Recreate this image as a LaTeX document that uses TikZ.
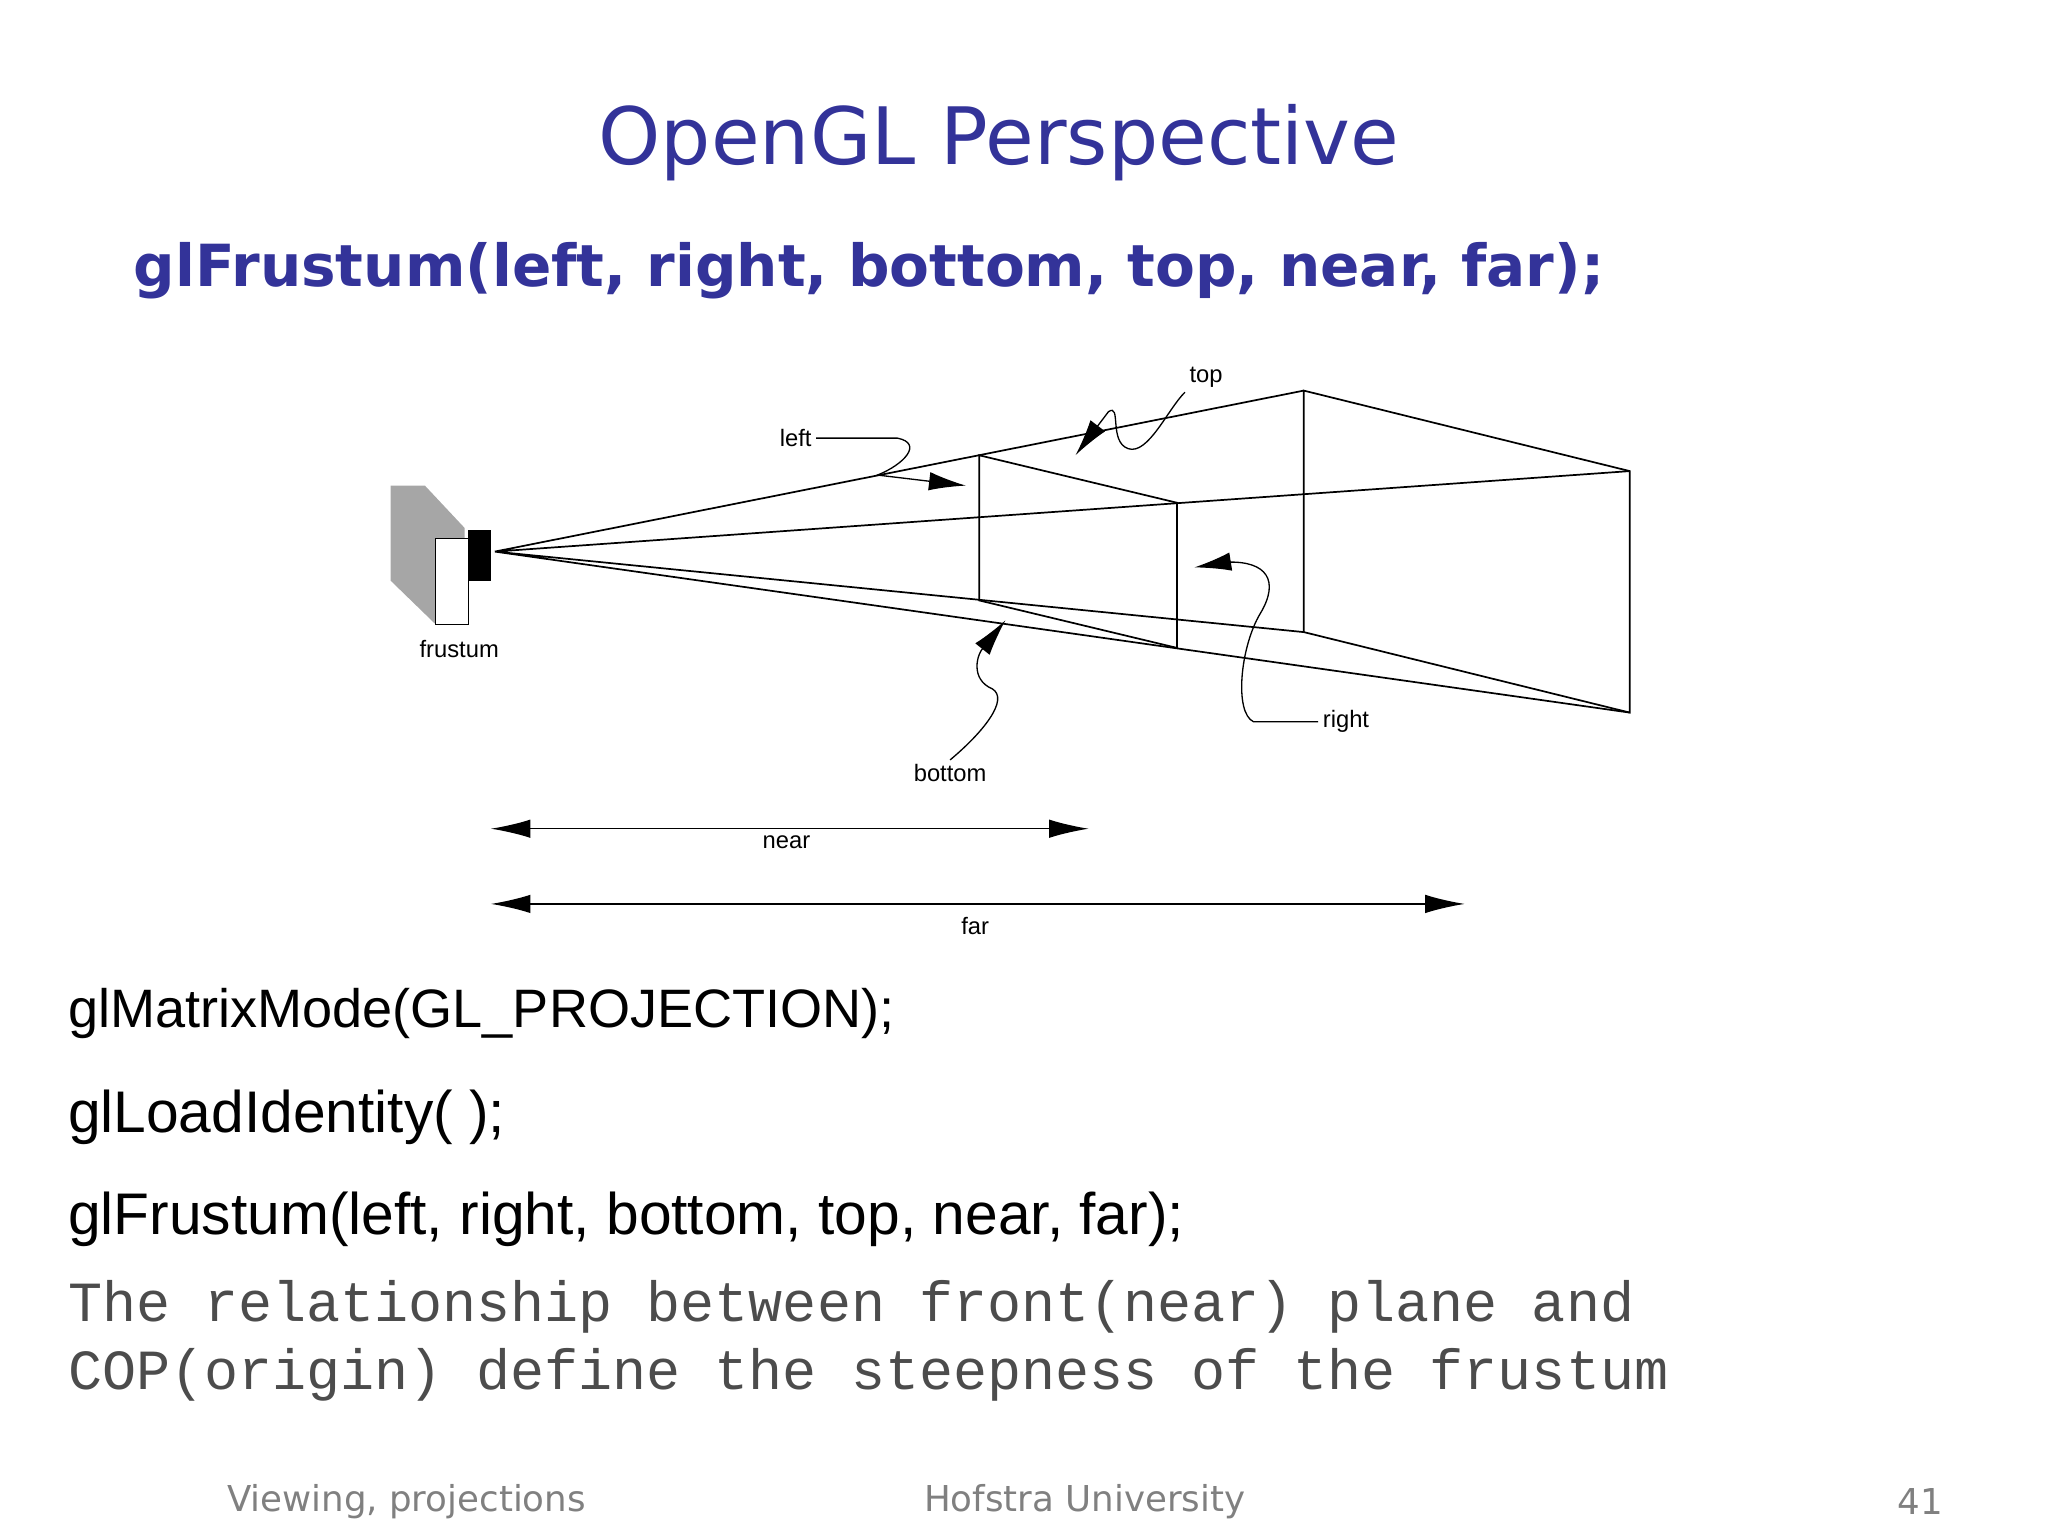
\documentclass[tikz,border=0pt]{standalone}
\usepackage{fontspec}
\setmainfont{DejaVu Sans}
\newfontfamily\lib{Liberation Sans}
\newfontfamily\cour{Liberation Mono}
\usetikzlibrary{arrows.meta}
\definecolor{titleblue}{HTML}{333399}
\begin{document}
\begin{tikzpicture}[x=1pt,y=-1pt,
  edge/.style={line width=1.3pt},
  lbl/.style={font=\lib\fontsize{18}{20}\selectfont},
  bigtip/.style={-{Latex[length=28pt,width=14pt]}},
  wig/.style={line width=1pt}]
\useasboundingbox (0,0) rectangle (1552,1164);
\node[text=titleblue,font=\fontsize{60}{64}\selectfont] (title) at (757,108) {OpenGL Perspective};
\node[text=titleblue,font=\bfseries\fontsize{44}{48}\selectfont,anchor=west] (sub) at (98,205) {glFrustum(left, right, bottom, top, near, far);};
% camera
\fill[gray!70] (296,368) -- (322,368) -- (352,400) -- (352,473) -- (330,473) -- (296,440) -- cycle;
\draw[line width=1pt,fill=white] (330,408) rectangle (355,473);
\fill[black] (355,402) rectangle (372,440);
\node[lbl] (fr) at (348,492) {frustum};
% frustum geometry
\coordinate (A) at (375,418);
\coordinate (n1) at (742,345); \coordinate (n2) at (742,455);
\coordinate (n3) at (892,381); \coordinate (n4) at (892,491);
\coordinate (f1) at (988,296); \coordinate (f2) at (988,479);
\coordinate (f3) at (1235,357); \coordinate (f4) at (1235,540);
\draw[edge] (A) -- (f1) (A) -- (f2) (A) -- (f3) (A) -- (f4);
\draw[edge] (n1) -- (n3) -- (n4) -- (n2) -- cycle;
\draw[edge] (f1) -- (f3) -- (f4) -- (f2) -- cycle;
% labels with arrows
\node[lbl] (lleft) at (603,332) {left};
\draw[wig,bigtip] (lleft.east) -- (680,332) .. controls (700,336) and (685,352) .. (665,360) -- (732,368);
\node[lbl] (ltop) at (914,286) {top};
\draw[wig,bigtip] (ltop.south west) .. controls (885,310) and (870,345) .. (855,340) .. controls (840,335) and (850,305) .. (840,312) -- (815,345);
\node[lbl] (lbot) at (720,586) {bottom};
\draw[wig,bigtip] (lbot.north) .. controls (745,555) and (765,530) .. (752,522) .. controls (735,515) and (740,495) .. (746,490) -- (762,470);
\node[lbl] (lright) at (1020,547) {right};
\draw[wig,bigtip] (lright.west) -- (950,547) .. controls (935,540) and (940,490) .. (955,465) .. controls (970,440) and (960,425) .. (930,426) -- (905,430);
% dimension arrows
\coordinate (na) at (372,628); \coordinate (nb) at (825,628);
\coordinate (fa) at (372,685); \coordinate (fb) at (1110,685);
\draw[line width=1pt,{Latex[length=30pt,width=14pt]}-{Latex[length=30pt,width=14pt]}] (na) -- (nb);
\draw[line width=1pt,{Latex[length=30pt,width=14pt]}-{Latex[length=30pt,width=14pt]}] (fa) -- (fb);
\node[lbl] (lnear) at (596,638) {near};
\node[lbl] (lfar) at (739,702) {far};
% code text
\node[anchor=west,font=\lib\fontsize{41}{44}\selectfont] (c1) at (48,768) {glMatrixMode(GL\_PROJECTION);};
\node[anchor=west,font=\lib\fontsize{44.5}{48}\selectfont] (c2) at (48,847) {glLoadIdentity( );};
\node[anchor=west,font=\lib\fontsize{44.5}{48}\selectfont] (c3) at (48,924) {glFrustum(left, right, bottom, top, near, far);};
\node[anchor=west,text=black!70,font=\cour\fontsize{43}{52}\selectfont,align=left] (c4) at (48,1016) {The relationship between front(near) plane and\\COP(origin) define the steepness of the frustum};
% footer
\node[text=black!50,font=\fontsize{27}{30}\selectfont] (ft1) at (308,1138) {Viewing, projections};
\node[text=black!50,font=\fontsize{27}{30}\selectfont] (ft2) at (822,1138) {Hofstra University};
\node[text=black!50,font=\fontsize{27}{30}\selectfont] (ft3) at (1455,1138) {41};
\end{tikzpicture}
\end{document}
